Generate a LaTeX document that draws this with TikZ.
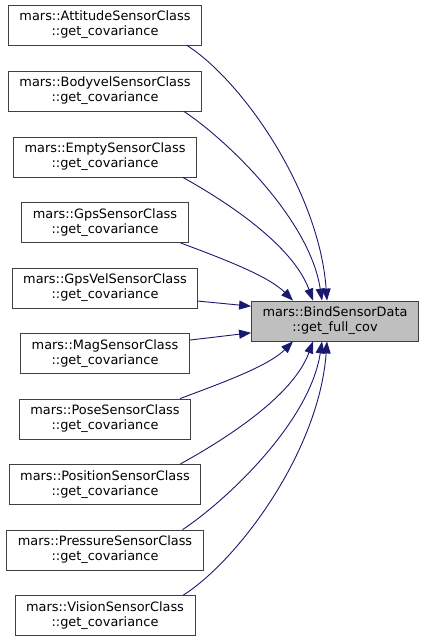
\documentclass[tikz,border=0pt]{standalone}
\usepackage{fontspec}
\setmainfont{DejaVu Sans}
\usetikzlibrary{arrows.meta}
\definecolor{edgeblue}{HTML}{191970}
\tikzset{
  fn/.style={draw=black!75, line width=0.8pt, fill=white, align=center, minimum height=40pt, inner xsep=11pt, font=\fontsize{12.9}{15}\selectfont},
  cur/.style={fn, fill=black!25},
  call/.style={draw=edgeblue, line width=0.9pt, -{Triangle[length=12pt,width=9pt]}, edgeblue}
}
\begin{document}
\begin{tikzpicture}[x=1pt,y=-1pt]
  \useasboundingbox (0,0) rectangle (424,640);
  % callers
  \node[fn] (att)  at (105,25)    {mars::AttitudeSensorClass\\::get\_covariance};
  \node[fn] (body) at (105,91)    {mars::BodyvelSensorClass\\::get\_covariance};
  \node[fn] (emp)  at (105,157)   {mars::EmptySensorClass\\::get\_covariance};
  \node[fn] (gps)  at (105,222.5) {mars::GpsSensorClass\\::get\_covariance};
  \node[fn] (gpsv) at (105,288)   {mars::GpsVelSensorClass\\::get\_covariance};
  \node[fn] (mag)  at (105,353.5) {mars::MagSensorClass\\::get\_covariance};
  \node[fn] (pose) at (105,419)   {mars::PoseSensorClass\\::get\_covariance};
  \node[fn] (pos)  at (105,484.5) {mars::PositionSensorClass\\::get\_covariance};
  \node[fn] (pres) at (105,550)   {mars::PressureSensorClass\\::get\_covariance};
  \node[fn] (vis)  at (105,615.5) {mars::VisionSensorClass\\::get\_covariance};
  % called function
  \node[cur] (bind) at (335,321) {mars::BindSensorData\\::get\_full\_cov};

  \draw[call] ([xshift=-15pt]att.south east)  .. controls +(55,35) and +(-8,-110) .. ([xshift=-8pt]bind.north);
  \draw[call] ([xshift=-18pt]body.south east) .. controls +(45,30) and +(-12,-80) .. ([xshift=-13pt]bind.north);
  \draw[call] ([xshift=-14pt]emp.south east)  .. controls +(45,25) and +(-20,-55) .. ([xshift=-22pt]bind.north);
  \draw[call] ([xshift=-8pt]gps.south east)   .. controls +(40,15) and +(-25,-25) .. ([xshift=-42pt]bind.north);
  \draw[call] (gpsv.-8) -- (bind.170);
  \draw[call] (mag.9) -- (bind.188);
  \draw[call] ([xshift=-11pt]pose.north east) .. controls +(40,-15) and +(-25,25) .. ([xshift=-42pt]bind.south);
  \draw[call] ([xshift=-21pt]pos.north east)  .. controls +(45,-25) and +(-20,55) .. ([xshift=-22pt]bind.south);
  \draw[call] ([xshift=-21pt]pres.north east) .. controls +(45,-30) and +(-12,80) .. ([xshift=-13pt]bind.south);
  \draw[call] ([xshift=-12pt]vis.north east)  .. controls +(55,-35) and +(-8,110) .. ([xshift=-8pt]bind.south);
\end{tikzpicture}
\end{document}
